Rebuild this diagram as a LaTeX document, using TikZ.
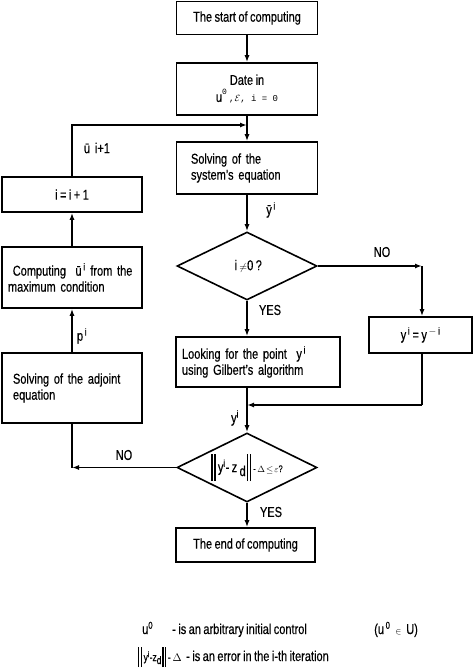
\documentclass[tikz,border=0pt]{standalone}
\usepackage{fontspec}
\setmainfont[FakeStretch=0.77,FakeBold=0.4,WordSpace=0.8]{Liberation Sans}
\setmonofont{Liberation Mono}
\usetikzlibrary{arrows.meta,shapes.geometric}
\newcommand\twobars[3]{\rule[#1]{#3}{#2}\hspace{#3}\rule[#1]{#3}{#2}}
\begin{document}
\begin{tikzpicture}[x=1pt,y=-1pt,
  >={Latex[length=7pt,width=5pt]},
  every node/.style={font=\fontsize{14.3}{16}\selectfont},
  flow/.style={line width=1.6pt},
  box/.style={draw,line width=1.6pt,inner sep=0pt,align=center},
  dia/.style={draw,diamond,line width=1.6pt,inner sep=0pt,aspect=2,minimum width=140pt,minimum height=68pt},
  lbl/.style={inner sep=0pt}]
\useasboundingbox (0,0) rectangle (474,668);

% boxes
\node[box,minimum width=141pt,minimum height=33pt] (start) at (247,18) {The start of computing};
\node[box,minimum width=141pt,minimum height=52pt] (date) at (247,89)
  {Date in\\[1pt] u\raisebox{7pt}{\fontsize{8}{9}\selectfont\ttfamily 0}\,{\fontsize{9}{10}\selectfont\ttfamily ,$\mathcal{E}$, i = 0}};
\node[box,minimum width=141pt,minimum height=52pt,align=left,text width=112pt] (solve) at (247,168)
  {Solving of the\\ system's equation};
\node[dia] (d1) at (247,266) {\ i\,{\fontsize{10}{11}\selectfont$\neq$}0 ?};
\node[box,minimum width=103pt,minimum height=36pt] (yi) at (420.5,335)
  {y\textsuperscript{\,i} = y\textsuperscript{\,$-$\,i}};
\node[box,minimum width=164pt,minimum height=50pt,align=left,text width=152pt] (look) at (258,362)
  {Looking for the point \ y\textsuperscript{\,i}\\ using Gilbert's algorithm};
\node[dia,minimum height=69pt] (d2) at (247,467.5) {};
\node[lbl,anchor=base] (d2t) at (247,472)
  {\twobars{-9pt}{27pt}{1.4pt}\,y\textsuperscript{i}-\,z\,\raisebox{-4pt}{d}\hspace{1pt}\twobars{-9pt}{27pt}{1.4pt}\,{\fontsize{9.5}{11}\selectfont -\,$\Delta\!\leq\!\varepsilon$?}};
\node[box,minimum width=139pt,minimum height=34pt] (end) at (245.5,545) {The end of computing};

\node[box,minimum width=140pt,minimum height=35pt] (inc) at (72,194.5) {i = i + 1};
\node[box,minimum width=140pt,minimum height=61pt,align=left,text width=128pt] (comp) at (72,277.5)
  {\ Computing \ \={u}\textsuperscript{\,i} from the\\ maximum condition};
\node[box,minimum width=140pt,minimum height=70pt,align=left,text width=118pt] (adj) at (72,388)
  {Solving of the adjoint\\ equation};

% helper coordinates
\coordinate (j1) at (247,125);
\coordinate (c1) at (422,266);
\coordinate (c2) at (422,405);
\coordinate (j2) at (247,405);
\coordinate (c3) at (72,467.5);

% connectors
\draw[flow,->] (start) -- (date);
\draw[flow,->] (date.south) -- (solve.north);
\draw[flow,->] (inc.north) |- (j1);
\draw[flow,->] (solve) -- (d1);
\draw[flow,->] (d1.east) -- (c1);
\draw[flow,->] (c1) -- (yi.north -| c1);
\draw[flow,->] (d1.south) -- (d1.south |- look.north);
\draw[flow] (yi.south -| c2) -- (c2);
\draw[flow,->] (c2) -- (j2);
\draw[flow,->] (look.south -| d2.north) -- (d2.north);
\draw[flow,->] (d2.south) -- (d2.south |- end.north);
\draw[flow,->] (d2.west) -- (c3);
\draw[flow] (c3) -- (adj.south);
\draw[flow,->] (adj.north) -- (comp.south);
\draw[flow,->] (comp.north) -- (inc.south);

% connector labels
\node[lbl] (lybar) at (271,210) {\={y}\textsuperscript{\,i}};
\node[lbl] (lno1) at (382,252) {NO};
\node[lbl] (lyes1) at (270,310) {YES};
\node[lbl] (lyi) at (235,418) {y\textsuperscript{i}};
\node[lbl] (lyes2) at (271,512) {YES};
\node[lbl] (lno2) at (124,455) {NO};
\node[lbl] (lpi) at (82,336) {p\textsuperscript{\,i}};
\node[lbl] (lubar) at (97,148) {\={u} \,i+1};

% legend
\node[lbl,anchor=base west] (g1a) at (142,634) {u\textsuperscript{0}};
\node[lbl,anchor=base west] (g1b) at (172,634) {- is an arbitrary initial control};
\node[lbl,anchor=base west] (g1c) at (374,634) {(u\textsuperscript{\,0} \,{\fontsize{9}{10}\selectfont$\in$}\, U)};
\node[lbl,anchor=base west] (g2a) at (138,661)
  {\fontsize{11}{12}\selectfont\twobars{-6pt}{20pt}{1.2pt}\,y\textsuperscript{i}-z\raisebox{-3pt}{d}\hspace{1pt}\twobars{-6pt}{20pt}{1.2pt}\,-\,$\Delta$};
\node[lbl,anchor=base west] (g2b) at (186,661) {- is an error in the i-th iteration};
\end{tikzpicture}
\end{document}
